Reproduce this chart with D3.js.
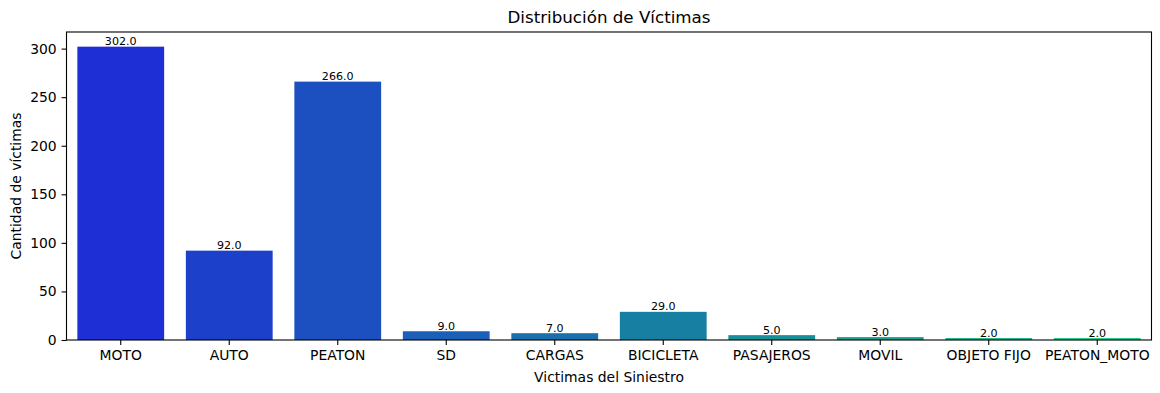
<!DOCTYPE html>
<html><head><meta charset="utf-8">
<script src="https://cdn.jsdelivr.net/npm/d3@7"></script>
<style>body{margin:0;background:#fff;}svg{display:block;font-family:"DejaVu Sans",sans-serif;}</style>
</head><body><svg id="c" width="1160" height="393"></svg>
<script>
const categories = ["MOTO","AUTO","PEATON","SD","CARGAS","BICICLETA","PASAJEROS","MOVIL","OBJETO FIJO","PEATON_MOTO"];
const values = [302,92,266,9,7,29,5,3,2,2];
const yTicks = [0,50,100,150,200,250,300];
const title = "Distribución de Víctimas";
const xLabel = "Victimas del Siniestro";
const yLabel = "Cantidad de víctimas";

const svg = d3.select("#c");
const L = 66.5, R = 1151.5, T = 32, B = 340;
const x = d3.scaleBand().domain(categories).range([L, R]).paddingInner(0.2).paddingOuter(0.1);
const y = d3.scaleLinear().domain([0, d3.max(values) * 1.05]).range([B, T]);

function winter(i, n) {
  const t = (i + 1) / (n + 1);
  const c = d3.rgb(0, t * 255, (1 - 0.5 * t) * 255);
  const h = d3.hsl(c); h.s *= 0.75;
  return h.formatHex();
}

svg.append("g").selectAll("rect").data(values).join("rect")
  .attr("x", (d, i) => x(categories[i]))
  .attr("width", x.bandwidth())
  .attr("y", d => y(d))
  .attr("height", d => B - y(d))
  .attr("fill", (d, i) => winter(i, categories.length));

svg.append("g").selectAll("text").data(values).join("text")
  .attr("x", (d, i) => x(categories[i]) + x.bandwidth() / 2)
  .attr("y", d => y(d) - 1.5)
  .attr("text-anchor", "middle")
  .attr("font-size", "11.1px")
  .attr("fill", "#000")
  .text(d => d.toFixed(1));

const xa = svg.append("g").attr("transform", `translate(0,${B})`)
  .call(d3.axisBottom(x).tickSizeOuter(0).tickSize(4.9).tickPadding(4.9));
const ya = svg.append("g").attr("transform", `translate(${L},0)`)
  .call(d3.axisLeft(y).tickValues(yTicks).tickSizeOuter(0).tickSize(4.9).tickPadding(4.9));
[xa, ya].forEach(a => {
  a.select(".domain").remove();
  a.selectAll("line").attr("stroke", "#000").attr("stroke-width", 1.1);
  a.selectAll("text").attr("font-size", "13.9px").attr("fill", "#000").attr("font-family", "DejaVu Sans");
});

svg.append("rect").attr("x", L).attr("y", T).attr("width", R - L).attr("height", B - T)
  .attr("fill", "none").attr("stroke", "#000").attr("stroke-width", 1.1);

svg.append("text").attr("x", (L + R) / 2).attr("y", 23).attr("text-anchor", "middle")
  .attr("font-size", "16.7px").text(title);
svg.append("text").attr("x", (L + R) / 2).attr("y", 382).attr("text-anchor", "middle")
  .attr("font-size", "13.9px").text(xLabel);
svg.append("text").attr("transform", `translate(21,${(T + B) / 2}) rotate(-90)`).attr("text-anchor", "middle")
  .attr("font-size", "13.9px").text(yLabel);
</script></body></html>
